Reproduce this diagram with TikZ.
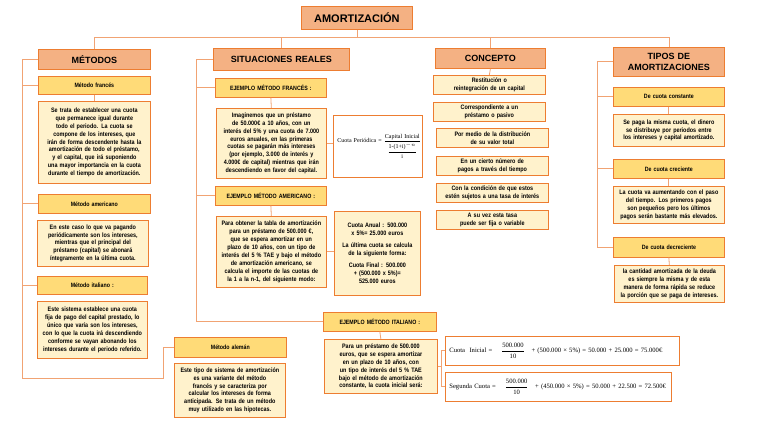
\documentclass[tikz,border=0pt]{standalone}
\usepackage{fontspec}
\setmainfont{Liberation Sans}
\newfontfamily\etroit[FakeStretch=0.85]{Liberation Sans}
\newfontfamily\formule{Liberation Serif}
\usepackage{tikz}
\hyphenpenalty=10000
\exhyphenpenalty=10000
\definecolor{saumon}{RGB}{244,177,131}
\definecolor{orangetrait}{RGB}{237,125,49}
\definecolor{jaune}{RGB}{255,219,120}
\definecolor{creme}{RGB}{255,242,204}
\definecolor{trait}{RGB}{241,163,115}
% boite : nom, style, x, y (coin haut gauche), largeur, hauteur, texte
\newcommand{\caja}[7]{%
  \pgfmathsetmacro{\tw}{#5-8}%
  \node[text width=\tw pt,#2,anchor=north west,minimum width=#5,minimum height=#6] (#1) at (#3,#4) {#7};}
\newcommand{\cfrac}[2]{$\displaystyle\frac{\hbox{#1}}{\hbox{#2}}$}

\begin{document}
\begin{tikzpicture}[x=1pt,y=-1pt,
  titre/.style={fill=saumon,draw=orangetrait,line width=0.8pt,align=center,inner xsep=4pt,inner ysep=1pt,
    font=\bfseries\fontsize{9}{10.5}\selectfont},
  etiq/.style={fill=jaune,draw=orangetrait,line width=0.7pt,align=center,inner xsep=4pt,inner ysep=1pt,
    font=\etroit\bfseries\fontsize{6.2}{7.5}\selectfont},
  texte/.style={fill=creme,draw=orangetrait,line width=0.7pt,align=center,inner xsep=4pt,inner ysep=1pt,
    font=\etroit\bfseries\fontsize{6.4}{7.9}\selectfont},
  formbox/.style={fill=white,draw=orangetrait,line width=0.7pt,align=left,inner xsep=4pt,inner ysep=1pt,
    font=\formule\fontsize{6.6}{8}\selectfont},
  lien/.style={draw=trait,line width=0.8pt}]

  % --- Fond ---
  \fill[white] (0,0) rectangle (768,433);
  \useasboundingbox (0,0) rectangle (768,433);

  % --- Titre et branches principales ---
  \caja{tit}{titre,font=\bfseries\fontsize{11}{13}\selectfont}{301}{6}{111}{23}{AMORTIZACIÓN}
  \caja{met}{titre}{38}{49}{112}{20}{MÉTODOS}
  \caja{sit}{titre}{213}{48}{136}{22}{SITUACIONES REALES}
  \caja{con}{titre}{435}{48}{110}{20}{CONCEPTO}
  \caja{tip}{titre}{613}{47}{111}{29}{TIPOS DE\\AMORTIZACIONES}

  % --- Colonne METODOS ---
  \caja{mfr}{etiq}{38}{76}{112}{18}{Método francés}
  \caja{mfrt}{texte}{38}{101}{112}{82}{Se trata de establecer una cuota que permanece igual durante todo el periodo. La cuota se compone de los intereses, que irán de forma descendente hasta la amortización de todo el préstamo, y el capital, que irá suponiendo una mayor importancia en la cuota durante el tiempo de amortización.}
  \caja{mam}{etiq}{38}{194}{112}{19}{Método americano}
  \caja{mamt}{texte}{37}{220}{111}{46}{En este caso lo que va pagando periódicamente son los intereses, mientras que el principal del préstamo (capital) se abonará íntegramente en la última cuota.}
  \caja{mit}{etiq}{37}{276}{110}{18}{Método italiano :}
  \caja{mitt}{texte}{37}{301}{110}{57}{Este sistema establece una cuota fija de pago del capital prestado, lo único que varía son los intereses, con lo que la cuota irá descendiendo conforme se vayan abonando los intereses durante el periodo referido.}
  \caja{mal}{etiq}{174}{337}{112}{20}{Método alemán}
  \caja{malt}{texte}{174}{363}{111}{54}{Este tipo de sistema de amortización es una variante del método francés y se caracteriza por calcular los intereses de forma anticipada. Se trata de un método muy utilizado en las hipotecas.}

  % --- Colonne SITUACIONES REALES ---
  \caja{efr}{etiq}{215}{78}{111}{19}{EJEMPLO MÉTODO FRANCÉS :}
  \caja{efrt}{texte}{216}{108}{110}{70}{Imaginemos que un préstamo de 50.000€ a 10 años, con un interés del 5\% y una cuota de 7.000 euros anuales, en las primeras cuotas se pagarán más intereses (por ejemplo, 3.000 de interés y 4.000€ de capital) mientras que irán descendiendo en favor del capital.}
  \caja{ffr}{formbox,inner xsep=1pt,font=\formule\fontsize{6}{7}\selectfont}{333}{115}{89}{62}{\mbox{Cuota Periódica = $\displaystyle\frac{\hbox{Capital Inicial}}{\displaystyle\frac{\hbox{1-(1+i)}^{-n}}{\hbox{i}}}$}}
  \caja{eam}{etiq}{215}{186}{111}{19}{EJEMPLO MÉTODO AMERICANO :}
  \caja{eamt}{texte}{216}{216}{110}{71}{Para obtener la tabla de amortización para un préstamo de 500.000 €, que se espera amortizar en un plazo de 10 años, con un tipo de interés del 5 \% TAE y bajo el método de amortización americano, se calcula el importe de las cuotas de la 1 a la n-1, del siguiente modo:}
  \caja{sam}{texte}{334}{211}{86}{84}{Cuota Anual : 500.000 x 5\%= 25.000 euros\\[4pt]La última cuota se calcula de la siguiente forma:\\[4pt]Cuota Final : 500.000 + (500.000 x 5\%)= 525.000 euros}
  \caja{eit}{etiq}{323}{312}{113}{19}{EJEMPLO MÉTODO ITALIANO :}
  \caja{eitt}{texte}{324}{339}{113}{54}{Para un préstamo de 500.000 euros, que se espera amortizar en un plazo de 10 años, con un tipo de interés del 5 \% TAE bajo el método de amortización constante, la cuota inicial será:}
  \caja{fi1}{formbox,inner xsep=2pt}{445}{336}{234}{29}{\mbox{Cuota\ \ Inicial = \quad\cfrac{500.000}{10}\quad + (500.000 × 5\%) = 50.000 + 25.000 = 75.000€}}
  \caja{fi2}{formbox,inner xsep=2pt}{445}{372}{226}{29}{\mbox{Segunda Cuota = \quad\cfrac{500.000}{10}\quad + (450.000 × 5\%) = 50.000 + 22.500 = 72.500€}}

  % --- Colonne CONCEPTO ---
  \foreach \n/\xx/\yy/\txt in {c1/433/75/{Restitución o reintegración de un capital},
      c2/433/102/{Correspondiente a un préstamo o pasivo},
      c3/436/128/{Por medio de la distribución de su valor total},
      c4/436/156/{En un cierto número de pagos a través del tiempo},
      c5/436/183/{Con la condición de que estos estén sujetos a una tasa de interés},
      c6/436/210/{A su vez esta tasa puede ser fija o variable}}{%
    \caja{\n}{texte}{\xx}{\yy}{112}{19}{\txt}
  }

  % --- Colonne TIPOS ---
  \caja{t1}{etiq}{613}{87}{111}{19}{De cuota constante}
  \caja{t1t}{texte}{613}{114}{111}{32}{Se paga la misma cuota, el dinero se distribuye por periodos entre los intereses y capital amortizado.}
  \caja{t2}{etiq}{613}{159}{111}{19}{De cuota creciente}
  \caja{t2t}{texte}{613}{186}{111}{37}{La cuota va aumentando con el paso del tiempo. Los primeros pagos son pequeños pero los últimos pagos serán bastante más elevados.}
  \caja{t3}{etiq}{613}{237}{111}{20}{De cuota decreciente}
  \caja{t3t}{texte}{614}{265}{110}{37}{la cantidad amortizada de la deuda es siempre la misma y de esta manera de forma rápida se reduce la porción que se paga de intereses.}

  % --- Liaisons ---
  \draw[lien] (tit.south) -- ++(0,8) coordinate (hub);
  \draw[lien] (met.north) |- (hub) -| (tip.north);
  \foreach \n in {sit,con}
    \draw[lien] (\n.north) -- (\n.north |- hub);

  % accolade METODOS
  \draw[lien] (met.west) -- ++(-16,0) coordinate (mhaut) -- ++(0,319) coordinate (mbas) -- ++(141,0) |- (mal.west);
  \foreach \n in {mfr,mam,mit}
    \draw[lien] (\n.west) -- (\n.west -| mhaut);

  % accolade SITUACIONES
  \draw[lien] (sit.west) -- ++(-17,0) coordinate (shaut) |- (eit.west);
  \foreach \n in {efr,eam}
    \draw[lien] (\n.west) -- (\n.west -| shaut);

  % accolade TIPOS
  \draw[lien] (tip.west) -- ++(-16,0) coordinate (thaut) |- (t3.west);
  \foreach \n in {t1,t2}
    \draw[lien] (\n.west) -- (\n.west -| thaut);

  % etiquette -> texte
  \foreach \a/\b in {mfr/mfrt,efr/efrt,eam/eamt,eit/eitt,t1/t1t,t2/t2t,t3/t3t,con/c1}
    \draw[lien] (\a.south) -- (\b.north);

  % textes -> formules
  \draw[lien] (efrt.east) -- (efrt.east -| ffr.west);
  \draw[lien] (eamt.east) -- (eamt.east -| sam.west);
  \draw[lien] (eitt.east) -- ++(4,0) |- (fi1.west);
  \draw[lien] (eitt.east) -- ++(4,0) |- (fi2.west);
\end{tikzpicture}
\end{document}
